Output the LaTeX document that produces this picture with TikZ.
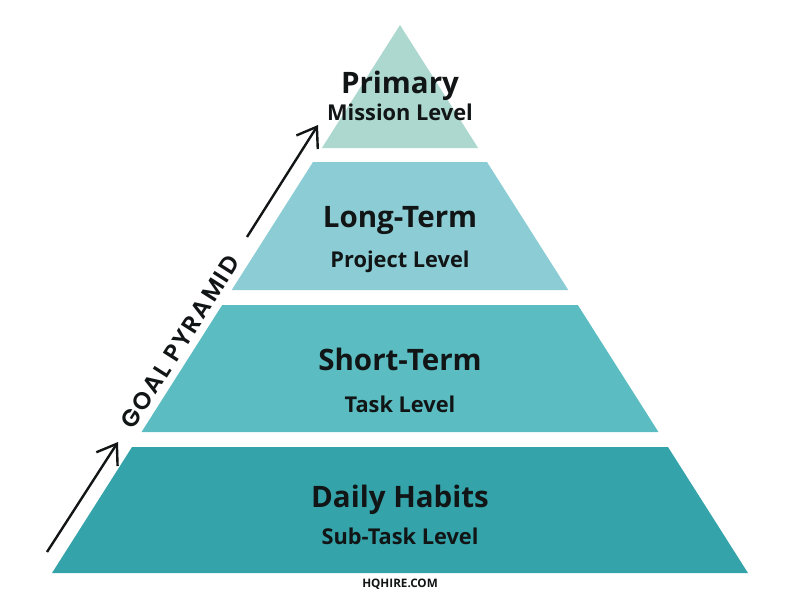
\documentclass[tikz,border=0pt]{standalone}
\usepackage{fontspec}
\setmainfont{Open Sans}
\newfontfamily\goalfont[LetterSpace=9]{Poppins SemiBold}
\usepackage{tikz}
\usetikzlibrary{arrows.meta}
\definecolor{tierone}{HTML}{ACD8CF}
\definecolor{tiertwo}{HTML}{8CCDD5}
\definecolor{tierthree}{HTML}{5BBDC2}
\definecolor{tierfour}{HTML}{34A4AA}
\definecolor{ink}{HTML}{111515}

\begin{document}
\begin{tikzpicture}[x=0.025cm,y=-0.025cm,
  title node/.style={anchor=base,inner sep=0pt,text=ink,font=\fontsize{21}{25}\selectfont\bfseries},
  level node/.style={anchor=base,inner sep=0pt,text=ink,font=\fontsize{15.5}{18}\selectfont\bfseries},
  climb/.style={-{Straight Barb[length=13pt,width=18pt]},line width=1.7pt,ink}]

  \fill[white] (0,0) rectangle (800,600);
  \useasboundingbox (0,0) rectangle (800,600);

  \foreach \top/\bot/\col in {25/148/tierone,162/290/tiertwo,305/432/tierthree,447/573/tierfour}
    \fill[\col] ({400-(\top-25)*0.635},\top) -- ({400+(\top-25)*0.635},\top)
      -- ({400+(\bot-25)*0.635},\bot) -- ({400-(\bot-25)*0.635},\bot) -- cycle;

  \node[title node] (primary) at (400,93) {Primary};
  \node[level node] (mission) at (400,120) {Mission Level};
  \node[title node] (longterm) at (400,227) {Long-Term};
  \node[level node] (project) at (400,267) {Project Level};
  \node[title node] (shortterm) at (400,370) {Short-Term};
  \node[level node] (task) at (400,412) {Task Level};
  \node[title node] (daily) at (400,507) {Daily Habits};
  \node[level node] (subtask) at (400,544) {Sub-Task Level};
  \node[anchor=base,inner sep=0pt,text=ink,font=\fontsize{8.3}{10}\selectfont\bfseries] (site) at (400,587) {HQHIRE.COM};

  \node[rotate=57.6,inner sep=0pt,text=ink,font=\goalfont\fontsize{17}{20}\selectfont] (goal) at (180,342) {GOAL PYRAMID};

  \coordinate (low start) at (47,552);
  \coordinate (low end) at (118,442);
  \coordinate (high start) at (247,237);
  \coordinate (high end) at (318,125);

  \draw[climb] (low start) -- (low end);
  \draw[climb] (high start) -- (high end);
\end{tikzpicture}
\end{document}
